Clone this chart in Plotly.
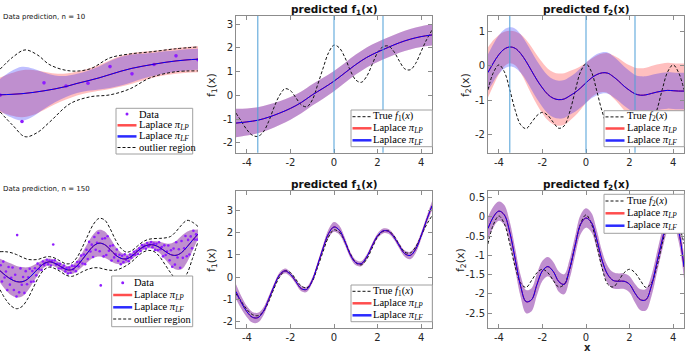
import plotly.graph_objects as go

W, H = 685, 352

# ---------------- data ----------------
x_half = [-4.5, -4.0, -3.5, -3.0, -2.5, -2.0, -1.5, -1.0, -0.5, 0.0, 0.5,
          1.0, 1.5, 2.0, 2.5, 3.0, 3.5, 4.0, 4.5]
x_quarter = [-4.5, -4.25, -4.0, -3.75, -3.5, -3.25, -3.0, -2.75, -2.5, -2.25,
             -2.0, -1.75, -1.5, -1.25, -1.0, -0.75, -0.5, -0.25, 0.0, 0.25,
             0.5, 0.75, 1.0, 1.25, 1.5, 1.75, 2.0, 2.25, 2.5, 2.75, 3.0,
             3.25, 3.5, 3.75, 4.0, 4.25, 4.5]

# true latent functions
f1_true = [-0.75, -1.1, -1.45, -1.68, -1.73, -1.55, -1.1, -0.5, 0.0, 0.28,
           0.2, -0.1, -0.4, -0.48, -0.2, 0.45, 1.15, 1.8, 2.12, 2.0, 1.6,
           1.05, 0.65, 0.55, 0.8, 1.3, 1.8, 2.05, 2.08, 1.85, 1.45, 1.12,
           1.08, 1.35, 1.85, 2.35, 2.75]
f2_true = [-0.7, -0.2, 0.02, -0.18, -0.7, -1.3, -1.72, -1.83, -1.65, -1.45,
           -1.36, -1.45, -1.65, -1.82, -1.75, -1.35, -0.75, -0.18, 0.05,
           -0.18, -0.75, -1.35, -1.75, -1.82, -1.65, -1.45, -1.36, -1.45,
           -1.65, -1.83, -1.72, -1.3, -0.7, -0.18, 0.02, -0.2, -0.7]

# n = 10 posterior
f1_mean_n10 = [-1.17, -1.12, -1.05, -0.92, -0.75, -0.55, -0.3, 0.02, 0.3,
               0.6, 0.95, 1.3, 1.6, 1.83, 2.03, 2.22, 2.37, 2.48, 2.55]
f1_hw_n10 = [0.6, 0.57, 0.55, 0.53, 0.5, 0.48, 0.46, 0.45, 0.44, 0.43, 0.42,
             0.42, 0.42, 0.42, 0.42, 0.42, 0.43, 0.44, 0.45]
f2_mean_n10 = [-0.2, 0.08, 0.32, 0.48, 0.54, 0.5, 0.35, 0.12, -0.15, -0.42,
               -0.65, -0.84, -0.95, -0.99, -0.97, -0.88, -0.78, -0.65, -0.5,
               -0.36, -0.26, -0.21, -0.22, -0.32, -0.45, -0.6, -0.72, -0.82,
               -0.86, -0.85, -0.81, -0.77, -0.74, -0.72, -0.73, -0.74, -0.74]
f2_hw_lf_n10 = [0.53, 0.55, 0.56, 0.57, 0.57, 0.57, 0.56, 0.55, 0.55, 0.55,
                0.55, 0.55, 0.55, 0.55, 0.55, 0.55, 0.56, 0.57, 0.58, 0.59,
                0.6, 0.6, 0.6, 0.59, 0.58, 0.57, 0.56, 0.55, 0.55, 0.54, 0.54,
                0.53, 0.53, 0.53, 0.53, 0.53, 0.53]
f2_hw_lp_n10 = [0.73, 0.66, 0.57, 0.5, 0.47, 0.49, 0.56, 0.63, 0.69, 0.72,
                0.74, 0.75, 0.76, 0.76, 0.75, 0.72, 0.68, 0.63, 0.59, 0.56,
                0.55, 0.56, 0.58, 0.62, 0.66, 0.7, 0.73, 0.76, 0.78, 0.79,
                0.8, 0.8, 0.8, 0.8, 0.8, 0.8, 0.8]

# n = 10 data prediction panel
data10_x = [-4.5, -3.5, -2.5, -1.5, -0.5, 0.5, 1.5, 2.5, 3.5, 4.5]
data10_y = [-1.2, -3.95, 0.08, -0.25, 0.05, 1.78, 1.02, 2.0, 2.9, 2.5]
pred10_hw_lf = [1.65, 2.4, 2.8, 2.5, 1.9, 1.4, 1.1, 1.0, 1.05, 1.2, 1.4, 1.5,
                1.45, 1.3, 1.2, 1.15, 1.1, 1.1, 1.1]
pred10_hw_lp = [1.8, 2.2, 2.45, 2.35, 2.0, 1.6, 1.35, 1.25, 1.25, 1.35, 1.5,
                1.6, 1.6, 1.5, 1.4, 1.35, 1.35, 1.35, 1.35]
out10_x = [-4.5, -3.9, -3.36, -2.8, -2.23, -1.32, -0.41, 0.5, 1.41, 2.32,
           3.45, 4.5]
out10_upper = [1.5, 2.8, 3.52, 3.0, 1.96, 1.33, 1.54, 2.69, 3.1, 3.31, 3.63,
               3.83]
out10_lower = [-2.94, -4.4, -5.54, -5.1, -3.98, -2.1, -1.38, -1.17, -0.54,
               0.6, 1.23, 1.33]

# n = 150 posterior
f1_mean_n150 = [-0.65, -1.15, -1.55, -1.8, -1.82, -1.55, -1.0, -0.4, 0.1,
                0.28, 0.12, -0.2, -0.52, -0.55, -0.15, 0.55, 1.3, 1.95, 2.25,
                2.1, 1.6, 1.0, 0.65, 0.6, 0.9, 1.4, 1.85, 2.07, 2.05, 1.8,
                1.4, 1.05, 0.97, 1.25, 1.85, 2.55, 3.2]
f1_hw_n150 = [0.33, 0.28, 0.25, 0.24, 0.22, 0.18, 0.14, 0.12, 0.11, 0.11,
              0.11, 0.11, 0.12, 0.12, 0.12, 0.13, 0.15, 0.19, 0.22, 0.2,
              0.16, 0.13, 0.12, 0.11, 0.11, 0.11, 0.11, 0.11, 0.11, 0.11,
              0.12, 0.14, 0.17, 0.17, 0.15, 0.16, 0.2]
f2_mean_n150 = [-0.3, 0.0, 0.15, 0.05, -0.4, -1.1, -1.8, -2.2, -2.15, -1.75,
                -1.4, -1.29, -1.42, -1.68, -1.75, -1.35, -0.75, -0.2, -0.03,
                -0.15, -0.6, -1.15, -1.5, -1.65, -1.67, -1.67, -1.75, -1.98,
                -2.15, -2.15, -1.8, -1.2, -0.6, -0.1, 0.08, -0.35, -1.3]
f2_hw_n150 = [0.3, 0.27, 0.25, 0.26, 0.27, 0.27, 0.28, 0.3, 0.3, 0.28, 0.26,
              0.25, 0.25, 0.26, 0.26, 0.25, 0.25, 0.25, 0.25, 0.25, 0.24,
              0.23, 0.22, 0.21, 0.2, 0.2, 0.21, 0.24, 0.27, 0.28, 0.27, 0.26,
              0.26, 0.26, 0.27, 0.28, 0.3]

# n = 150 data prediction panel
pred150_hw = [1.25, 1.5, 1.65, 1.65, 1.55, 1.25, 0.9, 0.6, 0.42, 0.35, 0.35,
              0.35, 0.4, 0.45, 0.55, 0.75, 1.0, 1.25, 1.4, 1.4, 1.2, 0.9,
              0.62, 0.45, 0.35, 0.33, 0.33, 0.35, 0.42, 0.6, 0.85, 1.15, 1.5,
              1.75, 1.6, 1.1, 0.5]
out150_hw = [2.0, 2.5, 2.8, 2.85, 2.6, 2.1, 1.5, 0.95, 0.65, 0.55, 0.55, 0.55,
             0.6, 0.7, 0.9, 1.3, 1.8, 2.3, 2.6, 2.6, 2.2, 1.6, 1.05, 0.7,
             0.58, 0.55, 0.55, 0.58, 0.68, 0.95, 1.4, 1.9, 2.5, 2.9, 2.8,
             1.9, 0.8]
data150_x = [-4.47, -4.41, -4.35, -4.29, -4.23, -4.17, -4.11, -4.05, -3.99,
             -3.93, -3.87, -3.81, -3.75, -3.72, -3.63, -3.57, -3.51, -3.45,
             -3.39, -3.33, -3.27, -3.21, -3.15, -3.09, -3.03, -2.97, -2.91,
             -2.85, -2.79, -2.73, -2.67, -2.61, -2.55, -2.49, -2.43, -2.37,
             -2.31, -2.25, -2.19, -2.13, -2.08, -2.01, -1.95, -1.89, -1.83,
             -1.77, -1.71, -1.65, -1.59, -1.53, -1.47, -1.41, -1.35, -1.29,
             -1.23, -1.17, -1.11, -1.05, -0.99, -0.93, -0.87, -0.81, -0.75,
             -0.69, -0.63, -0.57, -0.51, -0.45, -0.39, -0.33, -0.27, -0.21,
             -0.15, -0.09, -0.03, 0.03, 0.08, 0.15, 0.21, 0.27, 0.33, 0.39,
             0.45, 0.51, 0.57, 0.63, 0.69, 0.75, 0.81, 0.87, 0.93, 0.99, 1.05,
             1.11, 1.17, 1.23, 1.29, 1.35, 1.41, 1.47, 1.53, 1.59, 1.65, 1.71,
             1.77, 1.83, 1.89, 1.95, 2.01, 2.07, 2.13, 2.19, 2.25, 2.31, 2.37,
             2.43, 2.49, 2.55, 2.61, 2.67, 2.73, 2.79, 2.85, 2.91, 2.97, 3.03,
             3.09, 3.15, 3.21, 3.27, 3.33, 3.39, 3.45, 3.51, 3.57, 3.63, 3.69,
             3.75, 3.81, 3.87, 3.93, 3.99, 4.05, 4.11, 4.17, 4.23, 4.29, 4.35,
             4.41, 4.47]
data150_y = [-0.07, -1.78, 0.31, -1.36, -0.73, -2.68, -0.26, -2.12, -1.4,
             -0.31, -2.68, -1.08, -3.37, 3.1, -2.93, -0.41, -2.13, -1.32,
             -2.99, -0.7, -2.08, -1.34, -0.44, -1.82, -0.69, -1.79, -0.39,
             -1.14, 0.09, -0.48, -0.08, -0.57, 0.32, -0.06, 0.19, 0.49, 0.02,
             0.42, -0.11, 0.38, 2.1, 0.44, -0.01, 0.08, -0.42, 0.07, -0.39,
             -0.29, -0.1, -0.72, -0.36, -0.95, -0.33, -0.86, -0.12, -0.52,
             -0.18, -0.71, 0.27, -0.19, 0.28, 0.94, 0.1, 1.05, 0.04, 1.56,
             0.58, 2.38, 1.37, 2.09, 0.79, 2.89, 1.55, 2.28, 3.32, 1.39, -2.2,
             2.72, 0.86, 2.76, 1.0, 2.98, 1.45, 1.94, 0.42, 2.02, 0.75, 1.09,
             1.58, 0.38, 1.03, 0.03, 0.93, 0.25, 1.07, 0.51, 0.78, 0.35, 1.06,
             0.72, 1.0, 1.35, 1.0, 1.45, 1.11, 1.71, 1.42, 2.06, 1.79, 2.01,
             1.66, 2.26, 1.93, 2.11, 2.36, 1.82, 2.22, 1.54, 2.19, 1.5, 2.35,
             1.61, 1.85, 0.86, 2.02, 1.0, 1.37, 2.01, 0.44, 1.51, -0.24, 1.68,
             -0.01, 2.34, 0.74, 1.61, -0.34, 2.48, 0.7, 1.71, 3.0, 0.87, 2.59,
             1.06, 2.96, 1.7, 3.55, 2.64, 3.17, 2.62]

test_points = [-3.5, 0.0, 2.25]

x_tickvals = [-4, -2, 0, 2, 4]
x_ticktext = ["-4", "-2", "0", "2", "4"]
f1_tickvals = [-2, -1, 0, 1, 2, 3]
f1_ticktext = ["-2", "-1", "0", "1", "2", "3"]
f2_top_tickvals = [-2, -1, 0, 1]
f2_top_ticktext = ["-2", "-1", "0", "1"]
f2_bot_tickvals = [-2.5, -2, -1.5, -1, -0.5, 0, 0.5]
f2_bot_ticktext = ["-2.5", "-2", "-1.5", "-1", "-0.5", "0", "0.5"]

# ---------------- styles ----------------
RED_FILL = "rgba(255,0,0,0.25)"
BLUE_FILL = "rgba(0,0,255,0.25)"
RED = "#ff0000"
BLUE = "#0000ff"
DOT = "#8f1dff"
VLINE = "rgba(80,160,215,0.85)"
AXC = "#8c8c8c"
TXT = "#262626"
SANS = "DejaVu Sans"
SERIF = "Liberation Serif"

fig = go.Figure()


def P(xpix):
    return xpix / W


def Q(ypix):
    return 1 - ypix / H


def band(x, mean, hw, fill, xa, ya):
    lo = [m - h for m, h in zip(mean, hw)]
    hi = [m + h for m, h in zip(mean, hw)]
    fig.add_trace(go.Scatter(x=x, y=lo, mode="lines",
                             line=dict(width=0, shape="spline"),
                             hoverinfo="skip", showlegend=False,
                             xaxis=xa, yaxis=ya))
    fig.add_trace(go.Scatter(x=x, y=hi, mode="lines",
                             line=dict(width=0, shape="spline"),
                             fill="tonexty", fillcolor=fill,
                             hoverinfo="skip", showlegend=False,
                             xaxis=xa, yaxis=ya))


def curve(x, y, color, width, xa, ya, dash="solid"):
    fig.add_trace(go.Scatter(x=x, y=y, mode="lines",
                             line=dict(color=color, width=width, dash=dash,
                                       shape="spline"),
                             hoverinfo="skip", showlegend=False,
                             xaxis=xa, yaxis=ya))


def dots(x, y, size, xa, ya):
    fig.add_trace(go.Scatter(x=x, y=y, mode="markers",
                             marker=dict(color=DOT, size=size,
                                         line=dict(width=0)),
                             hoverinfo="skip", showlegend=False,
                             xaxis=xa, yaxis=ya))


DASH = "3px,2px"

# top-left: data prediction n = 10
band(x_half, f1_mean_n10, pred10_hw_lp, RED_FILL, "x", "y")
band(x_half, f1_mean_n10, pred10_hw_lf, BLUE_FILL, "x", "y")
dots(data10_x, data10_y, 3.6, "x", "y")
curve(x_half, f1_mean_n10, RED, 1, "x", "y")
curve(x_half, f1_mean_n10, BLUE, 1, "x", "y")
curve(out10_x, out10_upper, "#111111", 1, "x", "y", DASH)
curve(out10_x, out10_lower, "#111111", 1, "x", "y", DASH)

# top-middle: f1, n = 10
band(x_half, f1_mean_n10, f1_hw_n10, RED_FILL, "x2", "y2")
band(x_half, f1_mean_n10, f1_hw_n10, BLUE_FILL, "x2", "y2")
curve(x_quarter, f1_true, "#111111", 1, "x2", "y2", DASH)
curve(x_half, f1_mean_n10, RED, 1, "x2", "y2")
curve(x_half, f1_mean_n10, BLUE, 1, "x2", "y2")

# top-right: f2, n = 10
band(x_quarter, f2_mean_n10, f2_hw_lp_n10, RED_FILL, "x3", "y3")
band(x_quarter, f2_mean_n10, f2_hw_lf_n10, BLUE_FILL, "x3", "y3")
curve(x_quarter, f2_true, "#111111", 1, "x3", "y3", DASH)
curve(x_quarter, f2_mean_n10, RED, 1, "x3", "y3")
curve(x_quarter, f2_mean_n10, BLUE, 1, "x3", "y3")

# bottom-left: data prediction n = 150
band(x_quarter, f1_mean_n150, pred150_hw, RED_FILL, "x4", "y4")
band(x_quarter, f1_mean_n150, pred150_hw, BLUE_FILL, "x4", "y4")
dots(data150_x, data150_y, 2.6, "x4", "y4")
curve(x_quarter, f1_mean_n150, RED, 1, "x4", "y4")
curve(x_quarter, f1_mean_n150, BLUE, 1, "x4", "y4")
curve(x_quarter, [m + h for m, h in zip(f1_mean_n150, out150_hw)],
      "#111111", 1, "x4", "y4", DASH)
curve(x_quarter, [m - h for m, h in zip(f1_mean_n150, out150_hw)],
      "#111111", 1, "x4", "y4", DASH)

# bottom-middle: f1, n = 150
band(x_quarter, f1_mean_n150, f1_hw_n150, RED_FILL, "x5", "y5")
band(x_quarter, f1_mean_n150, f1_hw_n150, BLUE_FILL, "x5", "y5")
curve(x_quarter, f1_true, "#111111", 1, "x5", "y5", DASH)
curve(x_quarter, f1_mean_n150, RED, 1, "x5", "y5")
curve(x_quarter, f1_mean_n150, BLUE, 1, "x5", "y5")

# bottom-right: f2, n = 150
band(x_quarter, f2_mean_n150, f2_hw_n150, RED_FILL, "x6", "y6")
band(x_quarter, f2_mean_n150, f2_hw_n150, BLUE_FILL, "x6", "y6")
curve(x_quarter, f2_true, "#111111", 1, "x6", "y6", DASH)
curve(x_quarter, f2_mean_n150, RED, 1, "x6", "y6")
curve(x_quarter, f2_mean_n150, BLUE, 1, "x6", "y6")

# ---------------- axes ----------------
TOP = [Q(152.7), Q(16)]
BOT = [Q(327.5), Q(191)]
COL_L = [0, P(198)]
COL_M = [P(236), P(432)]
COL_R = [P(488), P(684)]


def vis_x(dom, anchor):
    return dict(domain=dom, anchor=anchor, range=[-4.5, 4.5],
                tickvals=x_tickvals, ticktext=x_ticktext,
                showline=True, linecolor=AXC, linewidth=1, mirror="ticks",
                ticks="inside", ticklen=4, tickcolor=AXC,
                showgrid=False, zeroline=False,
                tickfont=dict(family=SANS, size=10, color=TXT))


def vis_y(dom, anchor, rng, tv, tt):
    return dict(domain=dom, anchor=anchor, range=rng,
                tickvals=tv, ticktext=tt,
                showline=True, linecolor=AXC, linewidth=1, mirror="ticks",
                ticks="inside", ticklen=4, tickcolor=AXC,
                showgrid=False, zeroline=False,
                tickfont=dict(family=SANS, size=10, color=TXT))


def hid_x(dom, anchor):
    return dict(domain=dom, anchor=anchor, range=[-4.5, 4.5], visible=False,
                showticklabels=False)


def hid_y(dom, anchor, rng):
    return dict(domain=dom, anchor=anchor, range=rng, visible=False,
                showticklabels=False)


fig.update_layout(
    width=W, height=H, autosize=False,
    margin=dict(l=0, r=0, t=0, b=0),
    paper_bgcolor="white", plot_bgcolor="white",
    showlegend=False, hovermode=False,
    xaxis=hid_x(COL_L, "y"),
    yaxis=hid_y(TOP, "x", [-7.21, 7.06]),
    xaxis2=vis_x(COL_M, "y2"),
    yaxis2=vis_y(TOP, "x2", [-2.42, 3.35], f1_tickvals, f1_ticktext),
    xaxis3=vis_x(COL_R, "y3"),
    yaxis3=vis_y(TOP, "x3", [-2.53, 1.44], f2_top_tickvals, f2_top_ticktext),
    xaxis4=hid_x(COL_L, "y4"),
    yaxis4=hid_y(BOT, "x4", [-6.63, 7.74]),
    xaxis5=vis_x(COL_M, "y5"),
    yaxis5=vis_y(BOT, "x5", [-2.26, 3.86], f1_tickvals, f1_ticktext),
    xaxis6=vis_x(COL_R, "y6"),
    yaxis6=vis_y(BOT, "x6", [-2.87, 0.67], f2_bot_tickvals, f2_bot_ticktext),
)

shapes = []
annotations = []

# test point lines
for xa, ya in (("x2", "y2"), ("x3", "y3")):
    for tp in test_points:
        shapes.append(dict(type="line", xref=xa, yref=ya + " domain",
                           x0=tp, x1=tp, y0=0, y1=1, layer="above",
                           line=dict(color=VLINE, width=1.2)))


def text(xpix, ypix, s, size, family=SANS, color=TXT, xanchor="center",
         angle=0):
    annotations.append(dict(x=P(xpix), y=Q(ypix), xref="paper", yref="paper",
                            text=s, showarrow=False, xanchor=xanchor,
                            yanchor="middle", textangle=angle, borderpad=0,
                            font=dict(family=family, size=size, color=color)))


def legend(box, rows):
    x0, y0, x1, y1 = box
    shapes.append(dict(type="rect", xref="paper", yref="paper",
                       x0=P(x0), x1=P(x1), y0=Q(y1), y1=Q(y0), layer="above",
                       fillcolor="white", line=dict(color="#a0a0a0", width=1)))
    for kind, label, ry in rows:
        if kind == "dot":
            r = 1.5
            shapes.append(dict(type="circle", xref="paper", yref="paper",
                               x0=P(x0 + 11 - r), x1=P(x0 + 11 + r),
                               y0=Q(ry + r), y1=Q(ry - r), layer="above",
                               fillcolor=DOT, line=dict(width=0)))
        else:
            style = {"red": dict(color="#ff4d4d", width=2.5),
                     "blue": dict(color="#2a2aff", width=2.5),
                     "dash": dict(color="#111111", width=1, dash=DASH)}[kind]
            shapes.append(dict(type="line", xref="paper", yref="paper",
                               x0=P(x0 + 1.5), x1=P(x0 + 20.5),
                               y0=Q(ry), y1=Q(ry), layer="above", line=style))
        text(x0 + 21.5, ry, label, 10.5, SERIF, "#000000", "left")


LP = "Laplace <i>π</i><sub><i>LP</i></sub>"
LF = "Laplace <i>π</i><sub><i>LF</i></sub>"
TRUE1 = "True <i>f</i><sub>1</sub>(<i>x</i>)"
TRUE2 = "True <i>f</i><sub>2</sub>(<i>x</i>)"

legend((116, 108.3, 192.7, 154),
       [("dot", "Data", 114), ("red", LP, 125.3), ("blue", LF, 136.4),
        ("dash", "outlier region", 147.5)])
legend((351, 110, 432.3, 146.7),
       [("dash", TRUE1, 116.7), ("red", LP, 128.3), ("blue", LF, 140.3)])
legend((604, 110.7, 684.3, 146.7),
       [("dash", TRUE2, 116.9), ("red", LP, 128.5), ("blue", LF, 140.5)])
legend((111.7, 276, 192.7, 326.7),
       [("dot", "Data", 282.7), ("red", LP, 295), ("blue", LF, 307.3),
        ("dash", "outlier region", 319)])
legend((351, 285, 432.3, 321.7),
       [("dash", TRUE1, 291.3), ("red", LP, 303.3), ("blue", LF, 315.3)])
legend((604, 194.3, 684.3, 233.3),
       [("dash", TRUE2, 201), ("red", LP, 213.3), ("blue", LF, 225.7)])

# titles and labels
text(2, 17, "Data prediction, n = 10", 7, SANS, "#111111", "left")
text(2, 189, "Data prediction, n = 150", 7, SANS, "#111111", "left")
text(334, 10, "<b>predicted f<sub>1</sub>(x)</b>", 10.5, SANS, "#111111")
text(586, 10, "<b>predicted f<sub>2</sub>(x)</b>", 10.5, SANS, "#111111")
text(334, 185, "<b>predicted f<sub>1</sub>(x)</b>", 10.5, SANS, "#111111")
text(586, 185, "<b>predicted f<sub>2</sub>(x)</b>", 10.5, SANS, "#111111")
text(212, 85, "f<sub>1</sub>(x)", 11, SANS, TXT, "center", -90)
text(466, 85, "f<sub>2</sub>(x)", 11, SANS, TXT, "center", -90)
text(212, 260, "f<sub>1</sub>(x)", 11, SANS, TXT, "center", -90)
text(461, 260, "f<sub>2</sub>(x)", 11, SANS, TXT, "center", -90)
text(587, 347, "<b>x</b>", 10, SANS, TXT)

fig.update_layout(shapes=shapes, annotations=annotations)
fig.write_html("out.html",
               config={"displayModeBar": False},
               post_script="document.body.style.margin='0';"
                           "document.body.style.overflow='hidden';")
